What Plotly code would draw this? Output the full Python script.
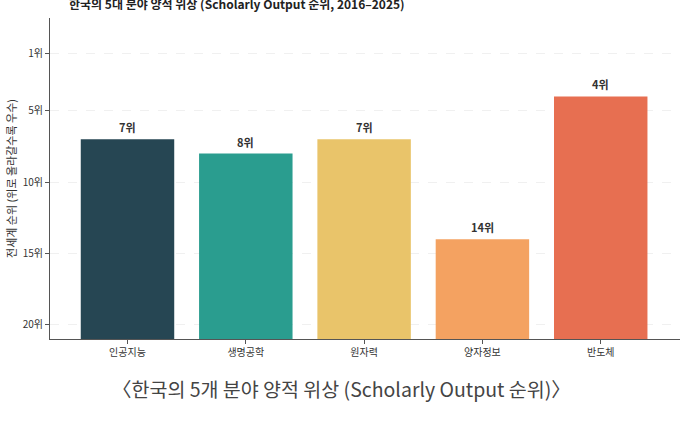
import plotly.graph_objects as go

categories = ["인공지능", "생명공학", "원자력", "양자정보", "반도체"]
ranks = [7, 8, 7, 14, 4]
colors = ["#264653", "#2a9d8f", "#e9c46a", "#f4a261", "#e76f51"]
tick_vals = [1, 5, 10, 15, 20]
tick_text = ["1위", "5위", "10위", "15위", "20위"]
base_rank = 21

title_text = "한국의 5대 분야 양적 위상 (Scholarly Output 순위, 2016–2025)"
caption_text = "〈한국의 5개 분야 양적 위상 (Scholarly Output 순위)〉"
y_title = "전세계 순위 (위로 올라갈수록 우수)"

FONT = "Noto Sans CJK KR"

fig = go.Figure()
fig.add_trace(go.Bar(
    x=categories,
    y=[r - base_rank for r in ranks],
    base=[base_rank] * len(ranks),
    marker=dict(color=colors, line=dict(width=0)),
    width=0.79,
    hoverinfo="skip",
))

for c, r in zip(categories, ranks):
    fig.add_annotation(x=c, y=r, text=f"<b>{r}위</b>", showarrow=False,
                       yanchor="bottom", yshift=2,
                       font=dict(family=FONT, size=11, color="#333333"))

fig.add_annotation(xref="paper", yref="paper", x=0.297, y=1.045,
                   text=f"<b>{title_text}</b>", showarrow=False,
                   xanchor="center", yanchor="middle",
                   font=dict(family=FONT, size=12, color="#222222"))
fig.add_annotation(xref="paper", yref="paper", x=0.462, y=-0.153,
                   text=caption_text, showarrow=False,
                   xanchor="center", yanchor="middle",
                   font=dict(family=FONT, size=19.5, color="#444444"))

fig.update_layout(
    width=686, height=440,
    margin=dict(l=50, r=6, t=18, b=101, autoexpand=False),
    paper_bgcolor="white", plot_bgcolor="white",
    showlegend=False,
    font=dict(family=FONT, color="#333333"),
    bargap=0.2,
)
fig.update_xaxes(
    range=[-0.655, 4.67],
    showline=True, linecolor="#555555", linewidth=1,
    ticks="outside", ticklen=4, tickcolor="#555555",
    tickfont=dict(family=FONT, size=10, color="#333333"),
    showgrid=False, zeroline=False, automargin=False,
)
fig.update_yaxes(
    range=[21, -1.5],
    tickvals=tick_vals, ticktext=tick_text,
    showline=True, linecolor="#555555", linewidth=1,
    ticks="outside", ticklen=4, tickcolor="#555555",
    tickfont=dict(family=FONT, size=10, color="#333333"),
    showgrid=True, gridcolor="#f0f0f0", griddash="dash", gridwidth=1,
    zeroline=False, automargin=False,
    title=dict(text=y_title, font=dict(family=FONT, size=11, color="#333333"), standoff=3),
)

fig.write_html("out.html",
               config={"displayModeBar": False},
               post_script="document.body.style.margin='0';document.body.style.overflow='hidden';")
